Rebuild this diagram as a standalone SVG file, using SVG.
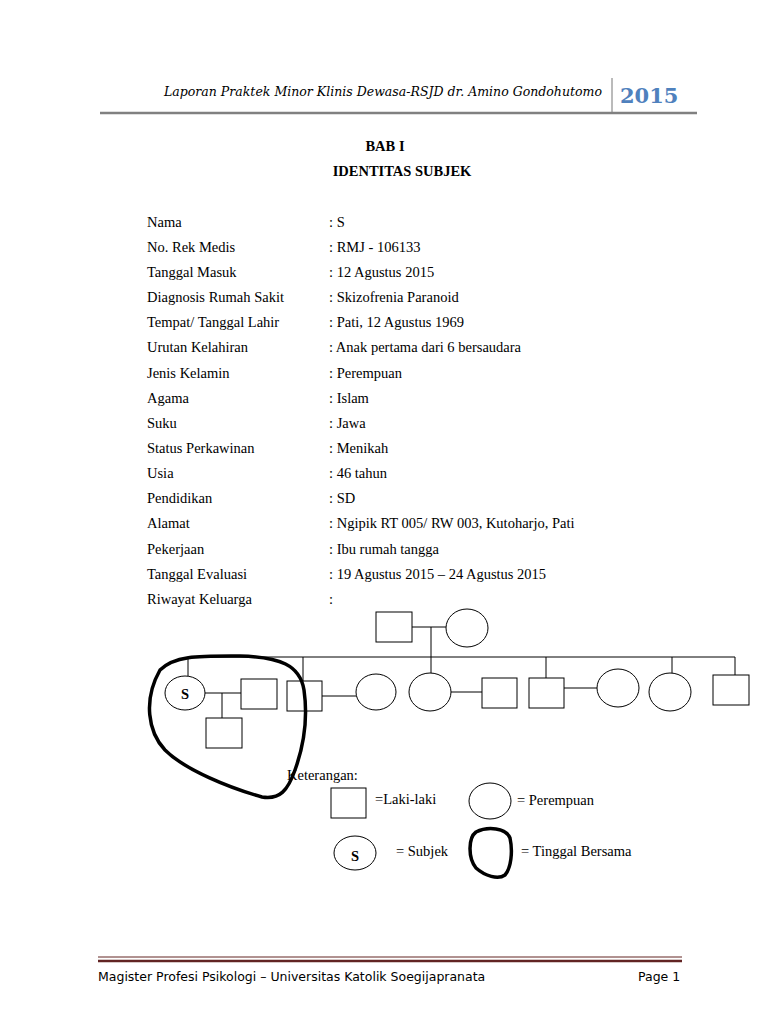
<svg xmlns="http://www.w3.org/2000/svg" width="768" height="1024" viewBox="0 0 768 1024">
<style>
text{font-family:"Liberation Serif",serif;font-size:14.5px;fill:#000}
.hd{font-family:"DejaVu Serif","Liberation Serif",serif;font-style:italic;font-size:12.5px}
.ft{font-family:"DejaVu Sans","Liberation Sans",sans-serif;font-size:12.5px}
.n{fill:#fff;stroke:#000;stroke-width:1}
.l{stroke:#000;stroke-width:1;fill:none}
.b{font-weight:bold}
</style>
<rect width="768" height="1024" fill="#fff"/>
<text class="hd" x="602" y="96" text-anchor="end" textLength="438" lengthAdjust="spacingAndGlyphs">Laporan Praktek Minor Klinis Dewasa-RSJD dr. Amino Gondohutomo</text>
<line x1="612" y1="78" x2="612" y2="113" stroke="#777"/>
<text x="620" y="103" style="font-family:'DejaVu Serif',serif;font-weight:bold;font-size:21px;fill:#4F81BD">2015</text>
<line x1="100" y1="113" x2="697" y2="113" stroke="#808080" stroke-width="2.5"/>
<text class="b" x="385" y="151" text-anchor="middle">BAB I</text>
<text class="b" x="402" y="176" text-anchor="middle">IDENTITAS SUBJEK</text>
<g>
<text x="147" y="227">Nama</text><text x="329" y="227">: S</text>
<text x="147" y="252">No. Rek Medis</text><text x="329" y="252">: RMJ - 106133</text>
<text x="147" y="277">Tanggal Masuk</text><text x="329" y="277">: 12 Agustus 2015</text>
<text x="147" y="302">Diagnosis Rumah Sakit</text><text x="329" y="302">: Skizofrenia Paranoid</text>
<text x="147" y="327">Tempat/ Tanggal Lahir</text><text x="329" y="327">: Pati, 12 Agustus 1969</text>
<text x="147" y="352">Urutan Kelahiran</text><text x="329" y="352">: Anak pertama dari 6 bersaudara</text>
<text x="147" y="378">Jenis Kelamin</text><text x="329" y="378">: Perempuan</text>
<text x="147" y="403">Agama</text><text x="329" y="403">: Islam</text>
<text x="147" y="428">Suku</text><text x="329" y="428">: Jawa</text>
<text x="147" y="453">Status Perkawinan</text><text x="329" y="453">: Menikah</text>
<text x="147" y="478">Usia</text><text x="329" y="478">: 46 tahun</text>
<text x="147" y="503">Pendidikan</text><text x="329" y="503">: SD</text>
<text x="147" y="528">Alamat</text><text x="329" y="528">: Ngipik RT 005/ RW 003, Kutoharjo, Pati</text>
<text x="147" y="554">Pekerjaan</text><text x="329" y="554">: Ibu rumah tangga</text>
<text x="147" y="579">Tanggal Evaluasi</text><text x="329" y="579">: 19 Agustus 2015 – 24 Agustus 2015</text>
<text x="147" y="604">Riwayat Keluarga</text><text x="329" y="604">:</text>
</g>
<g id="connectors">
<path class="l" d="M412 627H446M431 627V678M188 657H735M188 657V676M303 657V681M546 657V678M672 657V673M735 657V675"/>
<path class="l" d="M205 693H241M222 693V718M322 696H357M451 692H482M564 688H597"/>
</g>
<g id="father"><rect class="n" x="376" y="612" width="36" height="30"/></g>
<g id="mother"><ellipse class="n" cx="467" cy="628" rx="21" ry="19"/></g>
<g id="subject"><ellipse class="n" cx="185" cy="693" rx="20" ry="17"/><text class="b" x="185" y="699" text-anchor="middle">S</text></g>
<g id="husband"><rect class="n" x="241" y="679" width="36" height="30"/></g>
<g id="child"><rect class="n" x="206" y="718" width="36" height="30"/></g>
<g id="sib2"><rect class="n" x="287" y="681" width="35" height="30"/></g>
<g id="sib2w"><ellipse class="n" cx="376" cy="692" rx="20" ry="18"/></g>
<g id="sib3"><ellipse class="n" cx="430" cy="692" rx="21" ry="19"/></g>
<g id="sib3h"><rect class="n" x="482" y="678" width="35" height="30"/></g>
<g id="sib4"><rect class="n" x="529" y="678" width="35" height="30"/></g>
<g id="sib4w"><ellipse class="n" cx="618" cy="688" rx="21" ry="19"/></g>
<g id="sib5"><ellipse class="n" cx="670" cy="692" rx="21" ry="19"/></g>
<g id="sib6"><rect class="n" x="713" y="675" width="36" height="30"/></g>
<g id="household"><path d="M160 670C175 655 200 656 240 656C280 657 300 665 304 690C308 718 304 745 295 770C288 790 280 800 262 797C230 788 185 770 165 750C148 732 143 700 160 670Z" fill="none" stroke="#000" stroke-width="3.5"/></g>
<g id="legend">
<text x="287" y="780">Keterangan:</text>
<rect class="n" x="331" y="788" width="35" height="30"/>
<text x="375" y="804">=Laki-laki</text>
<ellipse class="n" cx="490" cy="801" rx="21" ry="18"/>
<text x="517" y="805">= Perempuan</text>
<ellipse class="n" cx="355" cy="853" rx="21" ry="17"/>
<text class="b" x="355" y="861" text-anchor="middle">S</text>
<text x="396" y="856">= Subjek</text>
<path d="M476 832C488 826 506 828 510 838C513 852 511 868 505 875C498 880 485 876 476 868C468 858 468 838 476 832Z" fill="none" stroke="#000" stroke-width="3.5"/>
<text x="521" y="856">= Tinggal Bersama</text>
</g>
<line x1="98" y1="957" x2="682" y2="957" stroke="#622423" stroke-width="1"/>
<line x1="98" y1="961" x2="682" y2="961" stroke="#622423" stroke-width="2.5"/>
<text class="ft" x="98" y="981">Magister Profesi Psikologi – Universitas Katolik Soegijapranata</text>
<text class="ft" x="638" y="981">Page 1</text>
</svg>
